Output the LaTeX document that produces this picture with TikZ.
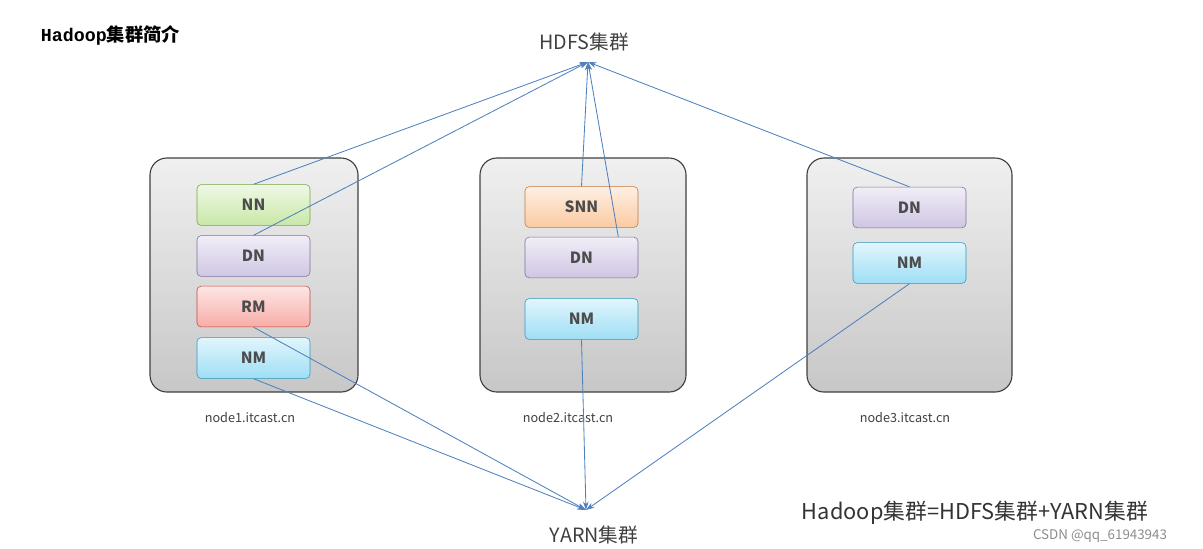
\documentclass[tikz,border=0pt]{standalone}
\usepackage{fontspec}
\setmainfont{Noto Sans CJK SC}
\newfontfamily\monofont{Liberation Mono}
\usetikzlibrary{arrows.meta}
\definecolor{lnk}{RGB}{79,129,189}
\definecolor{cnn}{RGB}{146,208,80}
\definecolor{cdn}{RGB}{160,140,200}
\definecolor{crm}{RGB}{240,90,80}
\definecolor{cnm}{RGB}{60,190,235}
\definecolor{csnn}{RGB}{247,150,70}
\begin{document}
\begin{tikzpicture}[x=0.025cm,y=-0.025cm,
  host/.style={draw=black!75,thick,rounded corners=12pt,top color=black!6,bottom color=black!22},
  role/.style={draw=#1!80!black,rounded corners=3pt,top color=#1!15,bottom color=#1!50,
    minimum width=2.825cm,minimum height=1.02cm,
    font=\bfseries\fontsize{11}{13}\selectfont,text=black!70},
  hostlbl/.style={font=\fontsize{9}{10}\selectfont,text=black!75},
  link/.style={draw=lnk,semithick,-{Stealth[length=6pt,width=4pt]}}]
\useasboundingbox (0,0) rectangle (1203,548);
% hosts
\draw[host] (150,158) rectangle (358,392);
\draw[host] (480,158) rectangle (686,392);
\draw[host] (807,158) rectangle (1012,392);
% roles node1
\node[role=cnn] (nn) at (253.5,205) {NN};
\node[role=cdn] (dn1) at (253.5,256) {DN};
\node[role=crm] (rm) at (253.5,306.5) {RM};
\node[role=cnm] (nm1) at (253.5,358) {NM};
% roles node2
\node[role=csnn] (snn) at (581.5,207) {SNN};
\node[role=cdn] (dn2) at (581.5,257.5) {DN};
\node[role=cnm] (nm2) at (581.5,319) {NM};
% roles node3
\node[role=cdn] (dn3) at (909.5,207.5) {DN};
\node[role=cnm] (nm3) at (909.5,263) {NM};
% host labels
\node[hostlbl] (h1) at (250,418) {node1.itcast.cn};
\node[hostlbl] (h2) at (568,418) {node2.itcast.cn};
\node[hostlbl] (h3) at (905,418) {node3.itcast.cn};
% cluster labels
\node[font=\fontsize{14}{16}\selectfont,text=black!75] (hdfs) at (584,42) {HDFS集群};
\node[font=\fontsize{14}{16}\selectfont,text=black!75] (yarn) at (594,535) {YARN集群};
\coordinate (ht) at (588,62);
\coordinate (yt) at (586,510);
% links to HDFS
\draw[link] (nn.north) -- (ht);
\draw[link] (dn1.north) -- (ht);
\draw[link] (snn.north) -- (ht);
\draw[link] ([xshift=-0.5cm]dn2.north east) -- (ht);
\draw[link] (dn3.north) -- (ht);
% links to YARN
\draw[link] (rm.south) -- (yt);
\draw[link] (nm1.south) -- (yt);
\draw[link] (nm2.south) -- (yt);
\draw[link] (nm3.south) -- (yt);
% texts
\node[anchor=west,font=\fontsize{13}{15}\selectfont\bfseries] (title) at (36,35) {{\monofont Hadoop}集群简介};
\node[font=\fontsize{15.5}{17}\selectfont,text=black!80] (eq) at (975,513) {Hadoop集群=HDFS集群+YARN集群};
\node[font=\fontsize{9.5}{11}\selectfont,text=black!45] (wm) at (1100,536) {CSDN @qq\_61943943};
\end{tikzpicture}
\end{document}
